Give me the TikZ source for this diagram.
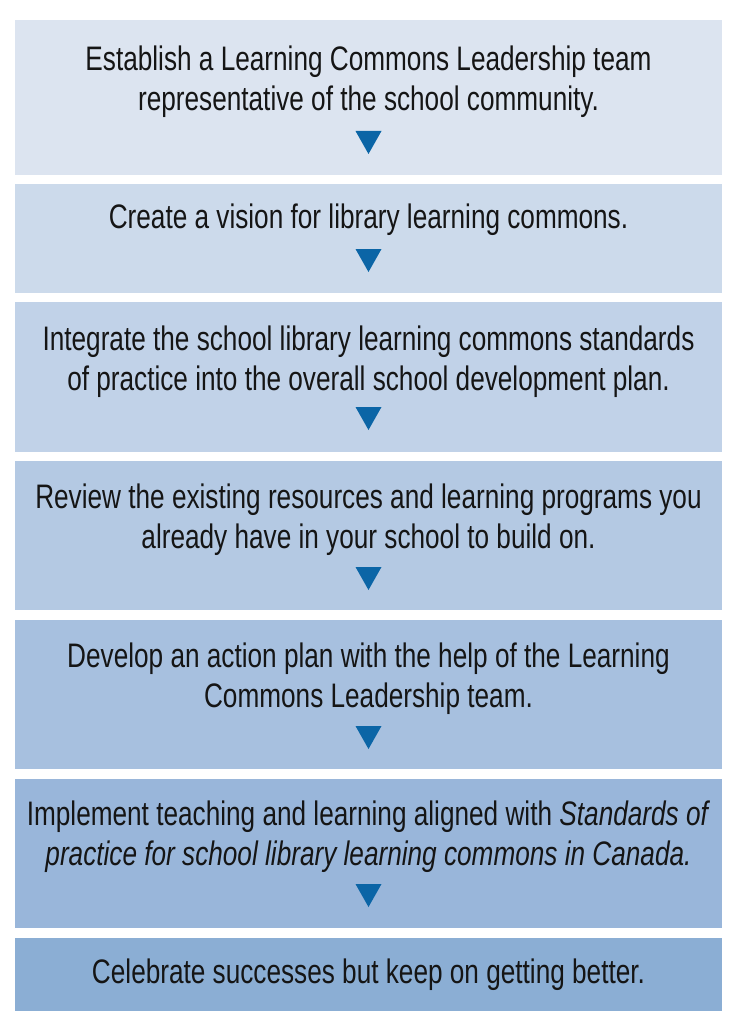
\documentclass[tikz,border=0pt]{standalone}
\usepackage{fontspec}
\setmainfont{Liberation Sans}[FakeStretch=0.77]
\definecolor{cA}{HTML}{DCE4F0}
\definecolor{cB}{HTML}{CCDAEB}
\definecolor{cC}{HTML}{C1D2E8}
\definecolor{cD}{HTML}{B4C9E3}
\definecolor{cE}{HTML}{A7C0DF}
\definecolor{cF}{HTML}{99B6DA}
\definecolor{cG}{HTML}{8BAED4}
\definecolor{arr}{HTML}{0B65A6}
\definecolor{txt}{HTML}{151515}
\begin{document}
\begin{tikzpicture}[x=1pt,y=-1pt,
  stepbox/.style={draw=none,inner sep=0pt,minimum width=707pt,anchor=north west},
  steptext/.style={inner sep=0pt,align=center,text=txt,font=\fontsize{34}{40}\selectfont},
  tri/.style={fill=arr}]
\useasboundingbox (0,0) rectangle (738,1024);
\fill[white] (0,0) rectangle (738,1024);
% boxes
\node[stepbox,fill=cA,minimum height=155pt] (b1) at (15,20) {};
\node[stepbox,fill=cB,minimum height=109pt] (b2) at (15,184) {};
\node[stepbox,fill=cC,minimum height=150pt] (b3) at (15,302) {};
\node[stepbox,fill=cD,minimum height=149pt] (b4) at (15,461) {};
\node[stepbox,fill=cE,minimum height=149pt] (b5) at (15,620) {};
\node[stepbox,fill=cF,minimum height=149pt] (b6) at (15,779) {};
\node[stepbox,fill=cG,minimum height=73pt] (b7) at (15,938) {};
% texts
\node[steptext] (t1) at (368.5,82) {Establish a Learning Commons Leadership team\\representative of the school community.};
\node[steptext] (t2) at (368.5,220) {Create a vision for library learning commons.};
\node[steptext] (t3) at (368.5,362) {Integrate the school library learning commons standards\\of practice into the overall school development plan.};
\node[steptext] (t4) at (368.5,520) {Review the existing resources and learning programs you\\already have in your school to build on.};
\node[steptext] (t5) at (368.5,679) {Develop an action plan with the help of the Learning\\Commons Leadership team.};
\node[steptext] (t6) at (368.5,837) {Implement teaching and learning aligned with \textit{Standards of}\\\textit{practice for school library learning commons in Canada.}};
\node[steptext] (t7) at (368.5,975) {Celebrate successes but keep on getting better.};
% arrows
\foreach \y in {131,249,407,567,726,884}{
  \fill[tri] (355.5,\y) -- (381.5,\y) -- (368.5,\y+23) -- cycle;
}
\end{tikzpicture}
\end{document}
